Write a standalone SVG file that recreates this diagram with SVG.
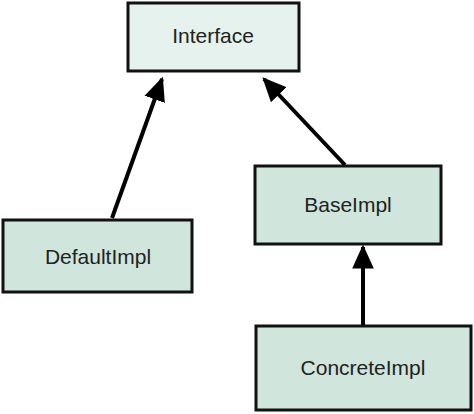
<svg xmlns="http://www.w3.org/2000/svg" width="474" height="414" viewBox="0 0 474 414">
<style>
.b{stroke:#111;stroke-width:3}
.t{font-family:"Liberation Sans",Arial,sans-serif;font-size:21px;fill:#222;text-anchor:middle}
.c{stroke:#000;stroke-width:4;fill:none}
</style>
<defs><marker id="a" viewBox="0 0 10 10" refX="9" refY="5" markerWidth="6" markerHeight="6" markerUnits="strokeWidth" orient="auto"><path d="M0,0.5L10,5L0,9.5z" fill="#000"/></marker></defs>
<rect width="474" height="414" fill="#fff"/>
<g id="connectors">
<line class="c" x1="112" y1="218" x2="162" y2="79" marker-end="url(#a)"/>
<line class="c" x1="345" y1="165" x2="264" y2="79" marker-end="url(#a)"/>
<line class="c" x1="363" y1="325" x2="363" y2="247" marker-end="url(#a)"/>
</g>
<g id="interface"><rect class="b" x="128" y="3" width="171" height="68" fill="#e6f2ee"/><text class="t" x="213" y="43">Interface</text></g>
<g id="defaultimpl"><rect class="b" x="3" y="220" width="189" height="72" fill="#d0e6dc"/><text class="t" x="98" y="264">DefaultImpl</text></g>
<g id="baseimpl"><rect class="b" x="255" y="166" width="186" height="78" fill="#d0e6dc"/><text class="t" x="348" y="212">BaseImpl</text></g>
<g id="concreteimpl"><rect class="b" x="256" y="326" width="215" height="84" fill="#d0e6dc"/><text class="t" x="363" y="375">ConcreteImpl</text></g>
</svg>
